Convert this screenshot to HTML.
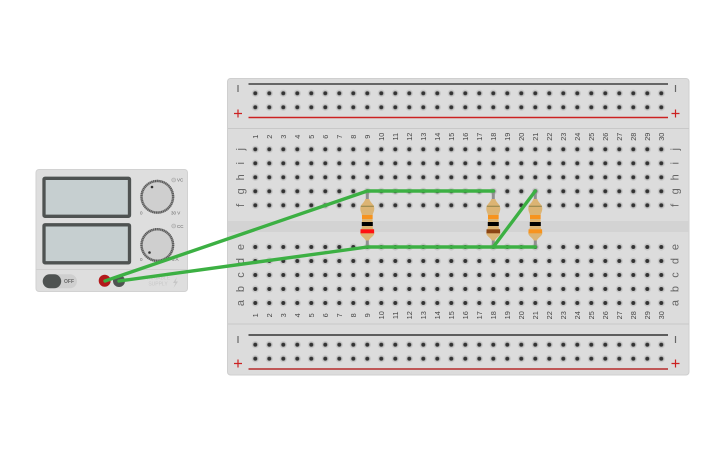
<!DOCTYPE html>
<html><head><meta charset="utf-8"><style>html,body{margin:0;padding:0;background:#fff;width:725px;height:453px;overflow:hidden}svg{display:block}text{font-family:"Liberation Sans",sans-serif}</style></head><body>
<svg width="725" height="453" viewBox="0 0 725 453" xmlns="http://www.w3.org/2000/svg">
<defs>
<pattern id="h1" x="248.3" y="2.3" width="14" height="14" patternUnits="userSpaceOnUse"><circle cx="7" cy="7" r="3.6" fill="#c6c6c6"/><circle cx="7" cy="7" r="2" fill="#333"/></pattern>
<pattern id="h2" x="248.3" y="2" width="14" height="14" patternUnits="userSpaceOnUse"><circle cx="7" cy="7" r="3.6" fill="#c6c6c6"/><circle cx="7" cy="7" r="2" fill="#333"/></pattern>
<pattern id="h3" x="248.3" y="1.7" width="14" height="14" patternUnits="userSpaceOnUse"><circle cx="7" cy="7" r="3.6" fill="#c6c6c6"/><circle cx="7" cy="7" r="2" fill="#333"/></pattern>
<path id="body" d="M-2 199H2C3 203 7 204 7 208.500C7 212 5.300 213 5.300 216V226C5.300 229 7 230 7 233C7 236 3.500 237 1.500 240.500H-1.500C-3.500 237 -7 236 -7 233C-7 230 -5.300 229 -5.300 226V216C-5.300 213 -7 212 -7 208.500C-7 204 -3 203 -2 199Z" fill="#dcb473"/>
</defs>
<!-- breadboard -->
<rect x="227.500" y="78.500" width="461.500" height="296.500" rx="3" fill="#dcdcdc" stroke="#cfcfcf"/>
<rect x="228" y="221" width="461" height="11" fill="#d3d3d3"/>
<line x1="228" y1="128.500" x2="689" y2="128.500" stroke="#c8c8c8"/>
<line x1="228" y1="324" x2="689" y2="324" stroke="#c8c8c8"/>
<line x1="248.500" y1="84" x2="668" y2="84" stroke="#555" stroke-width="1.800"/>
<line x1="248.500" y1="117.500" x2="668" y2="117.500" stroke="#c22" stroke-width="1.500"/>
<line x1="248.500" y1="335" x2="668" y2="335" stroke="#333" stroke-width="1.600"/>
<line x1="248.500" y1="369" x2="668" y2="369" stroke="#b44" stroke-width="1.800"/>
<rect x="248.300" y="86.300" width="420" height="28" fill="url(#h1)"/>
<rect x="248.300" y="142.300" width="420" height="70" fill="url(#h1)"/>
<rect x="248.300" y="240" width="420" height="70" fill="url(#h2)"/>
<rect x="248.300" y="337.700" width="420" height="28" fill="url(#h3)"/>
<!-- rail signs -->
<g stroke-width="1.200" fill="none">
<path d="M238 85v7M675.500 85v7" stroke="#666"/>
<path d="M234 113.500h8M238 109.500v8M671.500 113.500h8M675.500 109.500v8" stroke="#c22"/>
<path d="M238 336v7M675.500 336v7" stroke="#666"/>
<path d="M234 363.500h8M238 359.500v8M671.500 363.500h8M675.500 359.500v8" stroke="#c22"/>
</g>
<!-- row letters -->
<g font-size="11" fill="#666" text-anchor="middle">
<text transform="translate(244,149.300) rotate(-90)">j</text><text transform="translate(244,163.300) rotate(-90)">i</text><text transform="translate(244,177.300) rotate(-90)">h</text><text transform="translate(244,191.300) rotate(-90)">g</text><text transform="translate(244,205.300) rotate(-90)">f</text>
<text transform="translate(244,247) rotate(-90)">e</text><text transform="translate(244,261) rotate(-90)">d</text><text transform="translate(244,275) rotate(-90)">c</text><text transform="translate(244,289) rotate(-90)">b</text><text transform="translate(244,303) rotate(-90)">a</text>
<text transform="translate(678.500,149.300) rotate(-90)">j</text><text transform="translate(678.500,163.300) rotate(-90)">i</text><text transform="translate(678.500,177.300) rotate(-90)">h</text><text transform="translate(678.500,191.300) rotate(-90)">g</text><text transform="translate(678.500,205.300) rotate(-90)">f</text>
<text transform="translate(678.500,247) rotate(-90)">e</text><text transform="translate(678.500,261) rotate(-90)">d</text><text transform="translate(678.500,275) rotate(-90)">c</text><text transform="translate(678.500,289) rotate(-90)">b</text><text transform="translate(678.500,303) rotate(-90)">a</text>
</g>
<!-- column numbers top -->
<g font-size="7.300" fill="#444" text-anchor="middle">
<text transform="translate(258,136.700) rotate(-90)">1</text><text transform="translate(272,136.700) rotate(-90)">2</text><text transform="translate(286,136.700) rotate(-90)">3</text><text transform="translate(300,136.700) rotate(-90)">4</text><text transform="translate(314,136.700) rotate(-90)">5</text><text transform="translate(328,136.700) rotate(-90)">6</text><text transform="translate(342,136.700) rotate(-90)">7</text><text transform="translate(356,136.700) rotate(-90)">8</text><text transform="translate(370,136.700) rotate(-90)">9</text><text transform="translate(384,136.700) rotate(-90)">10</text>
<text transform="translate(398,136.700) rotate(-90)">11</text><text transform="translate(412,136.700) rotate(-90)">12</text><text transform="translate(426,136.700) rotate(-90)">13</text><text transform="translate(440,136.700) rotate(-90)">14</text><text transform="translate(454,136.700) rotate(-90)">15</text><text transform="translate(468,136.700) rotate(-90)">16</text><text transform="translate(482,136.700) rotate(-90)">17</text><text transform="translate(496,136.700) rotate(-90)">18</text><text transform="translate(510,136.700) rotate(-90)">19</text><text transform="translate(524,136.700) rotate(-90)">20</text>
<text transform="translate(538,136.700) rotate(-90)">21</text><text transform="translate(552,136.700) rotate(-90)">22</text><text transform="translate(566,136.700) rotate(-90)">23</text><text transform="translate(580,136.700) rotate(-90)">24</text><text transform="translate(594,136.700) rotate(-90)">25</text><text transform="translate(608,136.700) rotate(-90)">26</text><text transform="translate(622,136.700) rotate(-90)">27</text><text transform="translate(636,136.700) rotate(-90)">28</text><text transform="translate(650,136.700) rotate(-90)">29</text><text transform="translate(664,136.700) rotate(-90)">30</text>
<!-- bottom -->
<text transform="translate(258,315.300) rotate(-90)">1</text><text transform="translate(272,315.300) rotate(-90)">2</text><text transform="translate(286,315.300) rotate(-90)">3</text><text transform="translate(300,315.300) rotate(-90)">4</text><text transform="translate(314,315.300) rotate(-90)">5</text><text transform="translate(328,315.300) rotate(-90)">6</text><text transform="translate(342,315.300) rotate(-90)">7</text><text transform="translate(356,315.300) rotate(-90)">8</text><text transform="translate(370,315.300) rotate(-90)">9</text><text transform="translate(384,315.300) rotate(-90)">10</text>
<text transform="translate(398,315.300) rotate(-90)">11</text><text transform="translate(412,315.300) rotate(-90)">12</text><text transform="translate(426,315.300) rotate(-90)">13</text><text transform="translate(440,315.300) rotate(-90)">14</text><text transform="translate(454,315.300) rotate(-90)">15</text><text transform="translate(468,315.300) rotate(-90)">16</text><text transform="translate(482,315.300) rotate(-90)">17</text><text transform="translate(496,315.300) rotate(-90)">18</text><text transform="translate(510,315.300) rotate(-90)">19</text><text transform="translate(524,315.300) rotate(-90)">20</text>
<text transform="translate(538,315.300) rotate(-90)">21</text><text transform="translate(552,315.300) rotate(-90)">22</text><text transform="translate(566,315.300) rotate(-90)">23</text><text transform="translate(580,315.300) rotate(-90)">24</text><text transform="translate(594,315.300) rotate(-90)">25</text><text transform="translate(608,315.300) rotate(-90)">26</text><text transform="translate(622,315.300) rotate(-90)">27</text><text transform="translate(636,315.300) rotate(-90)">28</text><text transform="translate(650,315.300) rotate(-90)">29</text><text transform="translate(664,315.300) rotate(-90)">30</text>
</g>
<!-- power supply -->
<rect x="36" y="169.500" width="151.500" height="122" rx="3" fill="#dedede" stroke="#d2d2d2"/>
<line x1="36" y1="269.500" x2="187" y2="269.500" stroke="#cfcfcf"/>
<rect x="44" y="178.300" width="85.500" height="38" rx="1" fill="#c6cfd0" stroke="#4f5352" stroke-width="3.300"/>
<rect x="44" y="224.800" width="85.500" height="38" rx="1" fill="#c6cfd0" stroke="#4f5352" stroke-width="3.300"/>
<circle cx="157.300" cy="196.800" r="17" fill="#9a9a9a"/>
<circle cx="157.300" cy="196.800" r="15.800" fill="none" stroke="#555" stroke-width="2.400" stroke-dasharray="1 .8"/>
<circle cx="157.300" cy="196.800" r="14.500" fill="#cfcfcf"/>
<circle cx="152" cy="187" r="1.300" fill="#333"/>
<circle cx="157.300" cy="245" r="17" fill="#9a9a9a"/>
<circle cx="157.300" cy="245" r="15.800" fill="none" stroke="#555" stroke-width="2.400" stroke-dasharray="1 .8"/>
<circle cx="157.300" cy="245" r="14.500" fill="#cfcfcf"/>
<circle cx="149.500" cy="252.500" r="1.300" fill="#333"/>
<circle cx="173.700" cy="180" r="2" fill="#ccc" stroke="#aaa" stroke-width=".6"/>
<circle cx="173.700" cy="226" r="2" fill="#ccc" stroke="#aaa" stroke-width=".6"/>
<g font-size="4.500" fill="#666">
<text x="177" y="181.500">VC</text><text x="177" y="228">CC</text>
<text x="140" y="214.500">0</text><text x="171" y="214.500">30 V</text>
<text x="140" y="261">0</text><text x="172" y="261">5 A</text>
</g>
<rect x="43" y="274.300" width="34" height="14" rx="7" fill="#cfcfcf"/>
<rect x="42.700" y="274.300" width="18.500" height="14" rx="7" fill="#4f5352"/>
<text x="64" y="283" font-size="5" font-weight="bold" fill="#666">OFF</text>
<g font-size="5" fill="#c8c8c8" text-anchor="middle"><text x="158" y="279.500">VARIABLE</text><text x="158" y="285.500">SUPPLY</text></g>
<path d="M177 277l-4 6h2.500l-2 5 4.500-6.500h-2.500z" fill="#c6c6c6"/>
<circle cx="104.700" cy="280.700" r="6" fill="#b3191b"/><circle cx="119" cy="281" r="6" fill="#4f5352"/>
<!-- resistor leads -->
<g stroke="#8f8f8f" stroke-width="3"><path d="M367.300 191v56M493.300 191v56M535.300 191v56"/></g>
<!-- resistors -->
<g transform="translate(367.300,0)"><use href="#body"/>
<rect x="-6.500" y="205.700" width="13" height="1.200" fill="#9a8a50"/><rect x="-5.300" y="215" width="10.600" height="4" fill="#f7931e"/><rect x="-5.500" y="222" width="11" height="4" fill="#000"/><rect x="-6.800" y="229.300" width="13.600" height="4" fill="#f11"/></g>
<g transform="translate(493.300,0)"><use href="#body"/>
<rect x="-6.500" y="205.700" width="13" height="1.200" fill="#9a8a50"/><rect x="-5.300" y="215" width="10.600" height="4" fill="#f7931e"/><rect x="-5.500" y="222" width="11" height="4" fill="#000"/><rect x="-6.800" y="229.300" width="13.600" height="4" fill="#8b4513"/></g>
<g transform="translate(535.300,0)"><use href="#body"/>
<rect x="-6.500" y="205.700" width="13" height="1.200" fill="#9a8a50"/><rect x="-5.300" y="215" width="10.600" height="4" fill="#f7931e"/><rect x="-5.500" y="222" width="11" height="4" fill="#000"/><rect x="-6.800" y="229.300" width="13.600" height="4" fill="#f7931e"/></g>
<!-- wires -->
<g stroke="#3cb043" stroke-width="3.400" fill="none" stroke-linecap="round" stroke-linejoin="round">
<path d="M105 281L367.300 191H493.300"/>
<path d="M119 281L367.300 247H535.300"/>
<path d="M493.300 247L535.300 191"/>
</g>
</svg>
</body></html>
